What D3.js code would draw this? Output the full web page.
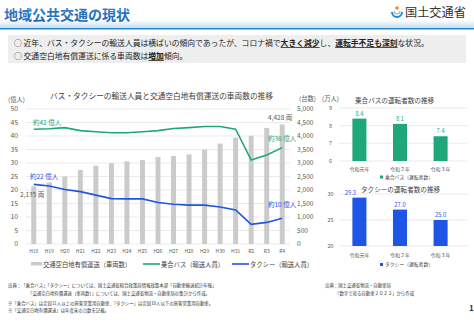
<!DOCTYPE html>
<html><head><meta charset="utf-8">
<script src="https://cdn.jsdelivr.net/npm/d3@7"></script>
<style>body{margin:0;background:#fff}svg{display:block;font-family:"Noto Sans CJK JP","Noto Sans",sans-serif}</style>
</head><body><svg id="c" width="474" height="333"></svg>
<script>
const years = ["H18","H19","H20","H21","H22","H23","H24","H25","H26","H27","H28","H29","H30","H31","R2","R3","R4"];
const vehicles = [2135,2280,2500,2740,2900,2990,3060,3110,3220,3260,3320,3500,3720,3940,4010,4300,4428];
const busRiders = [42.5,42.7,43.1,42.0,41.6,41.2,41.2,41.6,42.0,42.8,43.1,43.5,43.5,42.5,31.1,33.0,35.7];
const taxiRiders = [22.1,21.5,20.2,19.4,18.1,16.8,16.7,16.7,15.4,14.7,14.4,14.4,13.7,12.6,7.3,8.0,9.5];
const leftTicks = [0,5,10,15,20,25,30,35,40,45,50];
const rightTicks = [0,500,1000,1500,2000,2500,3000,3500,4000,4500,5000];
const driverYears = ["令和元年","令和２年","令和３年"];
const busDrivers = [8.4,8.1,7.4];
const busTicks = [6,7,8,9];
const taxiDrivers = [29.3,27.0,25.0];
const taxiTicks = [20,25,30];

const GREEN = "#1fa77a", BLUE = "#1f55e6", BAR = "#cbcbcb", GRID = "#dedede", TXT = "#595959";
const svg = d3.select("#c");
const defs = svg.append("defs");
const g1 = defs.append("linearGradient").attr("id","band").attr("x1",0).attr("y1",0).attr("x2",0).attr("y2",1);
g1.append("stop").attr("offset","0%").attr("stop-color","#ffffff");
g1.append("stop").attr("offset","100%").attr("stop-color","#c3dff3");
const g2 = defs.append("linearGradient").attr("id","ttl").attr("x1",0).attr("y1",0).attr("x2",0).attr("y2",1);
g2.append("stop").attr("offset","0%").attr("stop-color","#3d8ad6");
g2.append("stop").attr("offset","100%").attr("stop-color","#1b5fa8");

// header
svg.append("rect").attr("x",0).attr("y",20).attr("width",474).attr("height",8).attr("fill","url(#band)");
svg.append("line").attr("x1",0).attr("x2",474).attr("y1",28.8).attr("y2",28.8).attr("stroke","#2d86c9").attr("stroke-width",1.4);
svg.append("text").attr("x",4).attr("y",19.5).attr("font-size",14).attr("font-weight","bold").attr("fill","url(#ttl)").text("地域公共交通の現状");
// logo
const lg = svg.append("g").attr("transform","translate(397,12)");
lg.append("path").attr("d","M-5,0 A5,5 0 0,0 5,0").attr("fill","none").attr("stroke","#2a86d0").attr("stroke-width",2);
lg.append("path").attr("d","M-3,-1 A3,3 0 0,0 3,-1").attr("fill","none").attr("stroke","#7cc4ee").attr("stroke-width",1.2);
lg.append("circle").attr("cx",0).attr("cy",-4).attr("r",1.8).attr("fill","#f08a24");
svg.append("text").attr("x",405).attr("y",16.5).attr("font-size",12.2).attr("fill","#333").text("国土交通省");

// summary box
svg.append("rect").attr("x",8).attr("y",35).attr("width",458).attr("height",28).attr("fill","#eeeeee");
const l1 = svg.append("text").attr("x",14).attr("y",46).attr("font-size",7.8).attr("fill","#222");
l1.append("tspan").text("○ 近年、バス・タクシーの輸送人員は横ばいの傾向であったが、コロナ禍で");
l1.append("tspan").attr("font-weight","bold").attr("text-decoration","underline").text("大きく減少");
l1.append("tspan").text("し、");
l1.append("tspan").attr("font-weight","bold").attr("text-decoration","underline").text("運転手不足も深刻");
l1.append("tspan").text("な状況。");
const l2 = svg.append("text").attr("x",14).attr("y",59).attr("font-size",7.8).attr("fill","#222");
l2.append("tspan").text("○ 交通空白地有償運送に係る車両数は");
l2.append("tspan").attr("font-weight","bold").attr("text-decoration","underline").text("増加");
l2.append("tspan").text("傾向。");

// main chart
const x = d3.scaleBand().domain(years).range([26,290]).paddingInner(0.68).paddingOuter(0.34);
const yL = d3.scaleLinear().domain([0,50]).range([244,109]);
const yR = d3.scaleLinear().domain([0,5000]).range([244,109]);
const cx = d => x(d) + x.bandwidth()/2;

svg.append("g").selectAll("line").data(leftTicks).join("line")
  .attr("x1",26).attr("x2",290).attr("y1",d=>yL(d)).attr("y2",d=>yL(d))
  .attr("stroke",GRID).attr("stroke-width",0.6);
svg.append("g").selectAll("text").data(leftTicks).join("text")
  .attr("x",18).attr("y",d=>yL(d)+2.3).attr("text-anchor","end").attr("font-size",6.8).attr("fill",TXT).text(d=>d);
svg.append("g").selectAll("text").data(rightTicks).join("text")
  .attr("x",297).attr("y",d=>yR(d)+2.3).attr("font-size",6.6).attr("fill",TXT).text(d=>d3.format(",")(d));
svg.append("g").selectAll("rect").data(years).join("rect")
  .attr("x",d=>x(d)).attr("width",x.bandwidth())
  .attr("y",(d,i)=>yR(vehicles[i])).attr("height",(d,i)=>yR(0)-yR(vehicles[i])).attr("fill",BAR);
const line = d3.line().x((d,i)=>cx(years[i])).y(d=>yL(d));
svg.append("path").datum(busRiders).attr("d",line).attr("fill","none").attr("stroke",GREEN).attr("stroke-width",1.6);
svg.append("path").datum(taxiRiders).attr("d",line).attr("fill","none").attr("stroke",BLUE).attr("stroke-width",1.6);
svg.append("g").selectAll("text").data(years).join("text")
  .attr("x",d=>cx(d)).attr("y",253).attr("text-anchor","middle").attr("font-size",5).attr("fill",TXT).text(d=>d);

svg.append("text").attr("x",8).attr("y",101.5).attr("font-size",6.3).attr("fill",TXT).text("(億人)");
svg.append("text").attr("x",299).attr("y",100.5).attr("font-size",6.3).attr("fill",TXT).text("(台数)");
svg.append("text").attr("x",50).attr("y",98.5).attr("font-size",7.7).attr("fill","#404040").text("バス・タクシーの輸送人員と交通空白地有償運送の車両数の推移");

// annotations
svg.append("text").attr("x",33).attr("y",125).attr("font-size",6.5).attr("fill",GREEN).text("約42 億人");
svg.append("text").attr("x",30).attr("y",179).attr("font-size",6.5).attr("fill",BLUE).text("約22 億人");
svg.append("text").attr("x",20).attr("y",196.5).attr("font-size",6.5).attr("fill",TXT).text("2,135 両");
svg.append("text").attr("x",268).attr("y",120).attr("font-size",6.5).attr("fill",TXT).text("4,428 両");
svg.append("text").attr("x",268).attr("y",140.5).attr("font-size",6.5).attr("fill",GREEN).text("約36 億人");
svg.append("text").attr("x",268).attr("y",206.5).attr("font-size",6.5).attr("fill",BLUE).text("約10 億人");

// legend main
svg.append("rect").attr("x",31).attr("y",262).attr("width",11).attr("height",3.5).attr("fill",BAR);
svg.append("text").attr("x",43).attr("y",266.5).attr("font-size",6.3).attr("fill","#404040").text("交通空白地有償運送（車両数）");
svg.append("line").attr("x1",143).attr("x2",160).attr("y1",264).attr("y2",264).attr("stroke",GREEN).attr("stroke-width",1.6);
svg.append("text").attr("x",161).attr("y",266.5).attr("font-size",6.3).attr("fill","#404040").text("乗合バス（輸送人員）");
svg.append("line").attr("x1",232).attr("x2",249).attr("y1",264).attr("y2",264).attr("stroke",BLUE).attr("stroke-width",1.6);
svg.append("text").attr("x",250).attr("y",266.5).attr("font-size",6.3).attr("fill","#404040").text("タクシー（輸送人員）");

// small charts
const xs = d3.scaleBand().domain(driverYears).range([339,461]).paddingInner(0.654).paddingOuter(0.33);
function small(vals, ticks, y, color, title, titleX, titleY, legend, axisY, legY, labelEnd, labelShift){
  svg.append("g").selectAll("line").data(ticks).join("line")
    .attr("x1",339).attr("x2",467).attr("y1",d=>y(d)).attr("y2",d=>y(d))
    .attr("stroke",GRID).attr("stroke-width",0.6);
  svg.append("g").selectAll("text").data(ticks).join("text")
    .attr("x",labelEnd).attr("y",d=>y(d)+2).attr("text-anchor","end").attr("font-size",5.5).attr("fill",TXT).text(d=>d);
  svg.append("g").selectAll("rect").data(driverYears).join("rect")
    .attr("x",d=>xs(d)).attr("width",xs.bandwidth())
    .attr("y",(d,i)=>y(vals[i])).attr("height",(d,i)=>y(ticks[0])-y(vals[i])).attr("fill",color);
  svg.append("text").attr("x",titleX).attr("y",titleY).attr("font-size",6.6).attr("fill","#404040").text(title);
  svg.append("g").selectAll("text").data(driverYears).join("text")
    .attr("x",(d,i)=>xs(d)+xs.bandwidth()/2+labelShift[i]).attr("y",(d,i)=>y(vals[i])-3).attr("text-anchor","middle")
    .attr("font-size",5.8).attr("fill",color).text((d,i)=>vals[i].toFixed(1));
  svg.append("g").selectAll("text").data(driverYears).join("text")
    .attr("x",d=>xs(d)+xs.bandwidth()/2).attr("y",axisY).attr("text-anchor","middle")
    .attr("font-size",5).attr("fill",TXT).text(d=>d);
  svg.append("rect").attr("x",380).attr("y",legY-3).attr("width",3).attr("height",3).attr("fill",color);
  svg.append("text").attr("x",385).attr("y",legY).attr("font-size",4.8).attr("fill","#404040").text(legend);
}
const yBus = d3.scaleLinear().domain([6,9]).range([161,108]);
small(busDrivers, busTicks, yBus, GREEN, "乗合バスの運転者数の推移", 355, 103, "乗合バス（運転者数）", 171, 178.5, 332, [0,0,0]);
const yTaxi = d3.scaleLinear().domain([20,30]).range([246,194]);
small(taxiDrivers, taxiTicks, yTaxi, BLUE, "タクシーの運転者数の推移", 361, 191.5, "タクシー（運転者数）", 257, 266, 333.5, [-9,0,0]);
svg.append("text").attr("x",322).attr("y",100.5).attr("font-size",6.3).attr("fill",TXT).text("(万人)");

// footer
const foot = [
  [8,287,"出典：「乗合バス」「タクシー」については、国土交通省総合政策局情報政策本部「自動車輸送統計年報」"],
  [28,295,"「交通空白地有償運送（車両数）」については、国土交通省物流・自動車局の集計から作成。"],
  [8,304.5,"※「乗合バス」は定員11人以上の旅客営業用自動車、「タクシー」は定員10人以下の旅客営業用自動車。"],
  [8,312,"※「交通空白地有償運送」は年度末の台数を記載。"],
  [325,287,"出典：国土交通省物流・自動車局"],
  [335,295,"「数字で見る自動車２０２３」から作成"]
];
svg.append("g").selectAll("text").data(foot).join("text")
  .attr("x",d=>d[0]).attr("y",d=>d[1]).attr("font-size",4.4).attr("fill","#333").text(d=>d[2]);
svg.append("text").attr("x",469).attr("y",311).attr("font-size",8).attr("font-weight","bold").attr("fill","#333").text("1");
</script></body></html>
